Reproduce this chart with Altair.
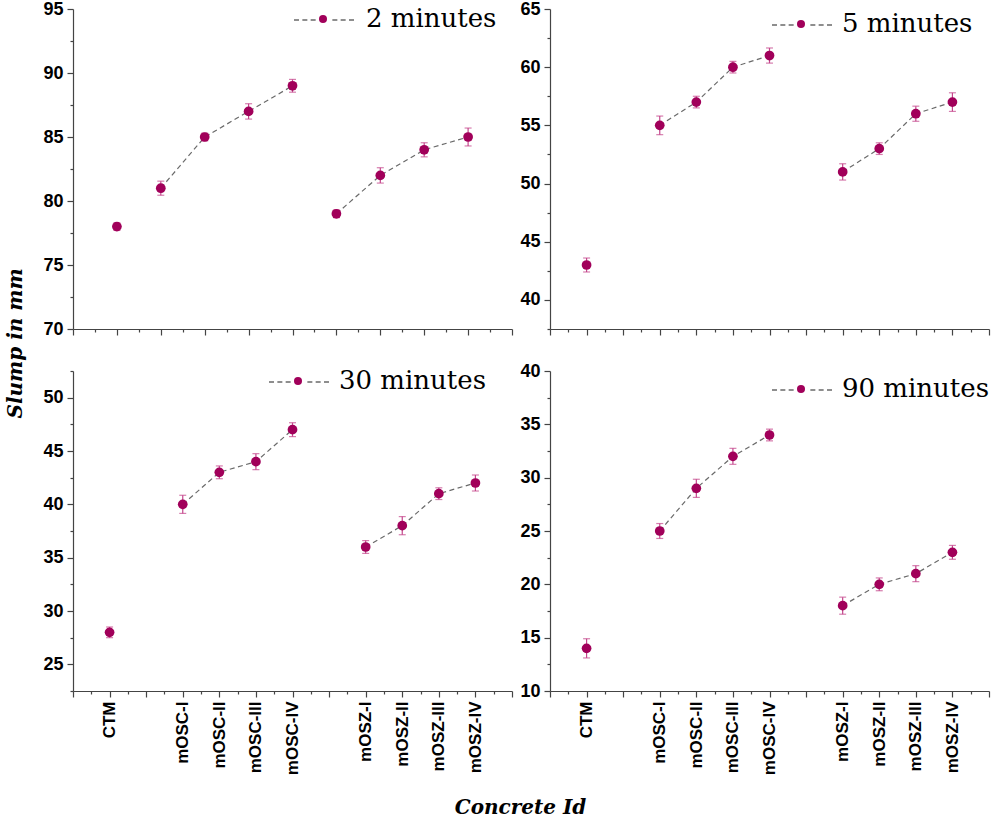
import altair as alt
import pandas as pd

# Concrete mixes, grouped as control, mOSC series and mOSZ series
concrete_ids = ["CTM", "mOSC-I", "mOSC-II", "mOSC-III", "mOSC-IV",
                "mOSZ-I", "mOSZ-II", "mOSZ-III", "mOSZ-IV"]
mix_groups = ["CTM", "mOSC", "mOSC", "mOSC", "mOSC",
              "mOSZ", "mOSZ", "mOSZ", "mOSZ"]

# Slump (mm) and error (± mm) at each elapsed time
slump_2 = [78, 81, 85, 87, 89, 79, 82, 84, 85]
err_2 = [0.3, 0.55, 0.3, 0.6, 0.5, 0.3, 0.6, 0.55, 0.7]
slump_5 = [43, 55, 57, 60, 61, 51, 53, 56, 57]
err_5 = [0.6, 0.8, 0.5, 0.5, 0.65, 0.7, 0.5, 0.65, 0.8]
slump_30 = [28, 40, 43, 44, 47, 36, 38, 41, 42]
err_30 = [0.5, 0.85, 0.6, 0.75, 0.65, 0.6, 0.85, 0.55, 0.75]
slump_90 = [14, 25, 29, 32, 34, 18, 20, 21, 23]
err_90 = [0.9, 0.7, 0.85, 0.75, 0.55, 0.8, 0.6, 0.75, 0.65]

PURPLE = "#a1005a"
PINK = "#c4468c"
GREY = "#6a6a6a"
AXIS = "#444444"
LABEL_FONT = "Liberation Sans"
TITLE_FONT = "DejaVu Serif"

# dashed legend stroke with an empty middle where the marker sits
DASH_PATH = ("M-6,0L-5,0M-4.33,0L-3.33,0M-2.67,0L-1.67,0"
             "M1.67,0L2.67,0M3.33,0L4.33,0M5,0L6,0")


def slots(gap):
    """Slot index of each mix on the x axis, with `gap` empty slots between groups."""
    out, pos, prev = [], 0, None
    for g in mix_groups:
        pos += 1 if prev is None or g == prev else 1 + gap
        out.append(pos)
        prev = g
    return out


def steps(lo, hi, step):
    out, k = [], 0
    while lo + k * step <= hi + 1e-9:
        out.append(round(lo + k * step, 3))
        k += 1
    return out


def panel(values, errs, series, ydomain, gap, show_labels,
          legend_dot, legend_text_x, ytitle=None, xtitle=None):
    xs = slots(gap)
    xmax = xs[-1] + 1
    df = pd.DataFrame({
        "slot": xs, "mix": concrete_ids, "grp": mix_groups,
        "slump": values,
        "lo": [v - e for v, e in zip(values, errs)],
        "hi": [v + e for v, e in zip(values, errs)],
        "series": series,
    })

    names = [""] * (xmax + 1)
    for s, n in zip(xs, concrete_ids):
        names[s] = n
    label_expr = ("([" + ",".join("'%s'" % n for n in names) + "])[datum.value] || ''"
                  if show_labels else "''")

    y0, y1 = ydomain
    y_major = [v for v in steps(0, 100, 5) if y0 - 1e-9 <= v <= y1 + 1e-9]
    y_minor = [v + 2.5 for v in steps(-5, 100, 5) if y0 - 1e-9 <= v + 2.5 <= y1 + 1e-9]
    x_major = list(range(0, xmax + 1))
    x_minor = [i + 0.5 for i in range(0, xmax)]

    x_axis = dict(values=x_major, labelExpr=label_expr, labelAngle=-90, orient="bottom",
                  labelFont=LABEL_FONT, labelFontWeight="bold", labelFontSize=17,
                  labelColor="black", labelPadding=4, labelOverlap=False,
                  labelFlush=False, tickSize=6, grid=False)
    if xtitle:
        x_axis.update(title=xtitle, titleFont=TITLE_FONT, titleFontStyle="italic",
                      titleFontWeight="bold", titleFontSize=20, titleColor="black",
                      titleX=447, titleY=116, titleBaseline="middle", titleAlign="center")
    else:
        x_axis.update(title=None)

    y_axis = dict(values=y_major, orient="left",
                  labelFont=LABEL_FONT, labelFontWeight="bold", labelFontSize=18,
                  labelColor="black", labelPadding=4, labelOverlap=False,
                  labelFlush=False, tickSize=6, grid=False)
    if ytitle:
        y_axis.update(title=ytitle, titleFont=TITLE_FONT, titleFontStyle="italic",
                      titleFontWeight="bold", titleFontSize=20, titleColor="black",
                      titleX=-58, titleY=334, titleBaseline="middle", titleAlign="center",
                      titleAngle=-90)
    else:
        y_axis.update(title=None)

    minor = dict(labels=False, domain=False, tickSize=3, grid=False, title=None)

    xs_scale = alt.Scale(domain=[0, xmax], nice=False, zero=False)
    ys_scale = alt.Scale(domain=list(ydomain), nice=False, zero=False)

    x_main = alt.X("slot:Q", scale=xs_scale, axis=alt.Axis(**x_axis))
    y_main = alt.Y("slump:Q", scale=ys_scale, axis=alt.Axis(**y_axis))
    x_min = alt.X("slot:Q", scale=xs_scale,
                  axis=alt.Axis(values=x_minor, orient="bottom", **minor))
    y_min = alt.Y("lo:Q", scale=ys_scale,
                  axis=alt.Axis(values=y_minor, orient="left", **minor))
    x_plain = alt.X("slot:Q", scale=xs_scale, axis=None)

    dx, dy = legend_dot
    base = alt.Chart(df)

    line = base.mark_line(strokeDash=[5, 3.5], strokeWidth=1.2).encode(
        x=x_main, y=y_main, detail="grp:N",
        stroke=alt.Stroke("series:N", scale=alt.Scale(range=[GREY]),
                          legend=alt.Legend(orient="none", legendX=dx - 5, legendY=dy - 5,
                                            padding=0, title=None, labelExpr="''",
                                            labelFontSize=10, symbolType=DASH_PATH,
                                            symbolSize=100, symbolStrokeWidth=1.3)),
    )
    bars = base.mark_rule(color=PINK, strokeWidth=1.2).encode(x=x_min, y=y_min, y2="hi:Q")
    cap_lo = base.mark_tick(color=PINK, orient="horizontal", size=7, thickness=1.2).encode(
        x=x_plain, y=alt.Y("lo:Q", axis=None))
    cap_hi = base.mark_tick(color=PINK, orient="horizontal", size=7, thickness=1.2).encode(
        x=x_plain, y=alt.Y("hi:Q", axis=None))
    dots = base.mark_point(filled=True, size=95, opacity=1).encode(
        x=x_plain, y=alt.Y("slump:Q", axis=None),
        fill=alt.Fill("series:N", scale=alt.Scale(range=[PURPLE]),
                      legend=alt.Legend(orient="none", legendX=dx - 13, legendY=dy - 13,
                                        padding=0, title=None, labelFont=TITLE_FONT,
                                        labelFontSize=26, labelColor="black",
                                        labelOffset=legend_text_x - dx - 12,
                                        symbolType="circle", symbolSize=64,
                                        symbolStrokeWidth=0)),
    )
    return alt.layer(line, bars, cap_lo, cap_hi, dots).resolve_axis(
        x="independent", y="independent").properties(width=439, height=320)


tl = panel(slump_2, err_2, "2 minutes", (70, 95), 0, False, (250, 10), 292,
           ytitle="Slump in mm")
tr = panel(slump_5, err_5, "5 minutes", (37.5, 65), 1, False, (251, 15), 291)
bl = panel(slump_30, err_30, "30 minutes", (22.5, 52.5), 1, True, (225, 10), 265,
           xtitle="Concrete Id")
br = panel(slump_90, err_90, "90 minutes", (10, 40), 1, True, (251, 18), 291)

chart = alt.concat(tl, tr, bl, br, columns=2,
                   spacing={"row": 42, "column": 38}, bounds="flush").resolve_scale(
    x="independent", y="independent", fill="independent", stroke="independent",
).properties(
    padding={"left": 5, "top": 0, "right": 0, "bottom": 0},
).configure_view(stroke=None).configure_axis(
    domainColor=AXIS, tickColor=AXIS, domainWidth=1.2, tickWidth=1.2,
)

chart.save("out.html", embed_options={"renderer": "svg", "actions": False})
